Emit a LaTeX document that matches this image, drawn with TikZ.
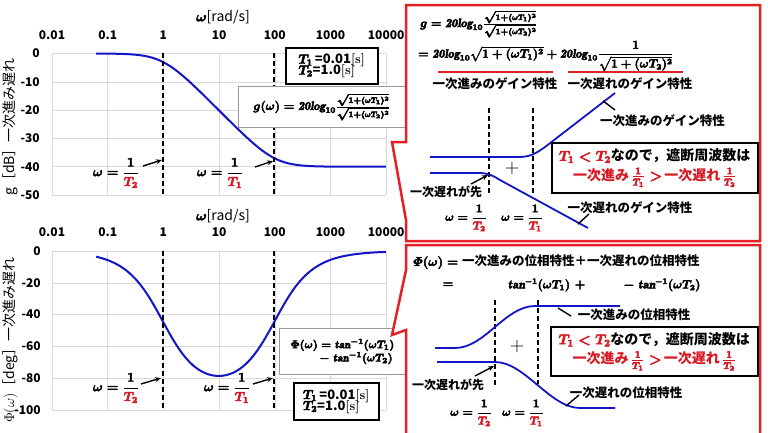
\RequirePackage{fix-cm}
\documentclass[tikz,border=0pt]{standalone}
\usepackage{amsmath}
\usepackage{fontspec}
\newfontfamily\jp{Noto Sans CJK JP}
\usetikzlibrary{arrows.meta}
\definecolor{cblue}{RGB}{20,20,200}
\definecolor{cred}{RGB}{226,32,38}
\definecolor{tred}{RGB}{215,25,35}
\definecolor{gridc}{RGB}{217,217,217}
\newcommand{\fs}[1]{\fontsize{#1}{#1}\selectfont}
\newcommand{\FB}[1]{\special{pdf:literal direct 2 Tr 0.5 w}#1\special{pdf:literal direct 0 Tr}}
\newcommand{\bmath}[1]{{\boldmath$#1$}}
\newcommand{\wfrac}[1]{\FB{$\omega=\dfrac{1}{\textcolor{tred}{T_{#1}}}$}}
\begin{document}
\begin{tikzpicture}[x=1pt,y=-1pt,
  curve/.style={cblue, line width=2pt},
  sketch/.style={cblue, line width=1.8pt},
  gridl/.style={gridc, line width=0.6pt},
  dline/.style={black, line width=1.8pt, dash pattern=on 5pt off 3pt},
  tk/.style={font=\fs{12}\jp\bfseries, inner sep=0},
  jpl/.style={font=\fs{12.5}\jp\bfseries, inner sep=0},
  ytitle/.style={font=\fs{14}\jp, rotate=90, inner sep=0},
  arr/.style={-{Stealth[length=6pt,width=5pt]}, line width=1.4pt},
  leader/.style={line width=1.4pt},
  fbox/.style={draw=gray!80, line width=0.8pt, fill=white, inner sep=2pt},
  tbox/.style={draw=black, line width=1.5pt, fill=white, align=left, font=\fs{13}, inner sep=3pt},
  rbox/.style={draw=cred, line width=2.5pt, fill=white, line join=miter},
  cbox/.style={draw=black, line width=1.5pt, fill=white, anchor=north west, align=center, inner sep=1pt, font=\fs{14}\boldmath},
  wlab/.style={font=\fs{13}\boldmath, inner sep=0},
  wlabs/.style={font=\fs{11.5}\boldmath, inner sep=0}
]
\useasboundingbox[fill=white] (0,0) rectangle (768,432);

% ================= top plot =================
\foreach \i in {0,...,6} \draw[gridl] ({52+55.7*\i},53.5) -- ({52+55.7*\i},195);
\foreach \j in {0,...,5} \draw[gridl] (52,{53.5+28.3*\j}) -- (386,{53.5+28.3*\j});
\node[font=\fs{14}, inner sep=0] (xt1) at (223,17) {\FB{\bmath{\omega}}{\jp[rad/s]}};
\foreach \lab [count=\i from 0] in {0.01,0.1,1,10,100,1000,10000}
  \node[tk] (tx\i) at ({52+55.7*\i},35) {\lab};
\foreach \lab [count=\i from 0] in {0,-10,-20,-30,-40,-50}
  \node[tk, anchor=east] (ty\i) at (40,{53.5+28.3*\i}) {\lab};
\node[ytitle] (yt1) at (10,127) {g［dB］一次進み遅れ};
\draw[curve] plot[domain=-1.2:4, samples=100, smooth]
  ({163+55.7*\x},{53.5-28.3*((max(2*\x-4,0)+ln(1+exp(-2.302585*min(abs(2*\x-4),6)))/2.302585)-(max(2*\x,0)+ln(1+exp(-2.302585*min(abs(2*\x),6)))/2.302585))});
\draw[dline] (163,53) -- (163,195);
\draw[dline] (274,53) -- (274,195);
\node[wlab] (w2a) at (116,173) {\wfrac{2}};
\node[wlab] (w1a) at (220,173) {\wfrac{1}};
\coordinate (w2at) at (162,160); \coordinate (w2as) at (143,166);
\coordinate (w1at) at (273,161); \coordinate (w1as) at (255,167);
\draw[arr] (w2as) -- (w2at);
\draw[arr] (w1as) -- (w1at);
\node[tbox, anchor=north west, minimum width=92, minimum height=36] (tb1) at (285,47)
  {\FB{\bmath{T_1}}\,{\jp\bfseries =0.01}\textbf{[s]}\\[-2pt]\FB{\bmath{T_2}}{\jp\bfseries =1.0}\textbf{[s]}};
\node[fbox, anchor=north west, minimum width=167, minimum height=41, font=\fs{12}\boldmath] (gf) at (238,86)
  {\FB{$g(\omega)=\mathit{20log}_{10}\frac{\sqrt{1+(\omega T_1)^2}}{\sqrt{1+(\omega T_2)^2}}$}};

% ================= bottom plot =================
\foreach \i in {0,...,6} \draw[gridl] ({52+55.7*\i},251) -- ({52+55.7*\i},410);
\foreach \j in {0,...,5} \draw[gridl] (52,{251+31.8*\j}) -- (386,{251+31.8*\j});
\node[font=\fs{14}, inner sep=0] (xt2) at (223,216) {\FB{\bmath{\omega}}{\jp[rad/s]}};
\foreach \lab [count=\i from 0] in {0.01,0.1,1,10,100,1000,10000}
  \node[tk] (bx\i) at ({52+55.7*\i},232) {\lab};
\foreach \lab [count=\i from 0] in {0,-20,-40,-60,-80,-100}
  \node[tk, anchor=east] (by\i) at (41,{251+31.8*\i}) {\lab};
\node[ytitle] (yt2) at (10,340) {$\Phi(\omega)$［deg］一次進み遅れ};
\draw[curve] plot[domain=-1.2:4, samples=100, smooth]
  ({163+55.7*\x},{251-1.59*(atan(exp(2.302585*(\x-2)))-atan(exp(2.302585*\x)))});
\draw[dline] (163,251) -- (163,410);
\draw[dline] (274,251) -- (274,410);
\node[wlab] (w2b) at (116,388) {\wfrac{2}};
\node[wlab] (w1b) at (227,388) {\wfrac{1}};
\coordinate (w2bt) at (161,378); \coordinate (w2bs) at (141,384);
\coordinate (w1bt) at (273,378); \coordinate (w1bs) at (253,384);
\draw[arr] (w2bs) -- (w2bt);
\draw[arr] (w1bs) -- (w1bt);
\node[fbox, anchor=north west, minimum width=126, minimum height=46, font=\fs{11}\boldmath, align=left] (pf) at (279,328)
  {\FB{$\Phi(\omega)=\mathit{tan}^{-1}(\omega T_1)$}\\\FB{$\qquad\;\;-\ \mathit{tan}^{-1}(\omega T_2)$}};
\node[tbox, anchor=north west, minimum width=85, minimum height=37] (tb2) at (293,382)
  {\FB{\bmath{T_1}}\,{\jp\bfseries =0.01}\textbf{[s]}\\[-2pt]\FB{\bmath{T_2}}{\jp\bfseries =1.0}\textbf{[s]}};

% ================= right upper callout =================
\draw[rbox] (406,5) -- (760,5) -- (760,241) -- (406,241) -- (406,220) -- (392,142) -- (406,142) -- cycle;
\node[anchor=west, inner sep=0, font=\fs{12}\boldmath] (ga) at (420,24)
  {\FB{$g=\mathit{20log}_{10}\frac{\sqrt{1+(\omega T_1)^2}}{\sqrt{1+(\omega T_2)^2}}$}};
\node[anchor=west, inner sep=0, font=\fs{12}\boldmath] (gb) at (418,56)
  {\FB{$=\mathit{20log}_{10}\sqrt{1+(\omega T_1)^2}+\mathit{20log}_{10}\dfrac{1}{\sqrt{1+(\omega T_2)^2}}$}};
\coordinate (ul1a) at (438,72); \coordinate (ul1b) at (553,72);
\coordinate (ul2a) at (568,72); \coordinate (ul2b) at (683,72);
\draw[cred, line width=2pt] (ul1a) -- (ul1b);
\draw[cred, line width=2pt] (ul2a) -- (ul2b);
\node[jpl] (gl1) at (495,84) {一次進みのゲイン特性};
\node[jpl] (gl2) at (630,84) {一次遅れのゲイン特性};
\draw[dline] (489,108) -- (489,195);
\draw[dline] (533,108) -- (533,193);
\draw[sketch] (430,157) -- (518,157) .. controls (530,157) and (535,154) .. (545,147) -- (615,93);
\draw[sketch] (430,173) -- (478,173) .. controls (488,173) and (492,175) .. (500,180) -- (588,228);
\node[font=\fs{20}, inner sep=0] (plus1) at (512,168) {$+$};
\node[jpl, anchor=west] (gl3) at (600,121) {一次進みのゲイン特性};
\coordinate (ld1a) at (603,101); \coordinate (ld1b) at (615,110);
\draw[leader] (ld1a) -- (ld1b);
\node[jpl] (gl4) at (630,208) {一次遅れのゲイン特性};
\coordinate (ld2a) at (578,224); \coordinate (ld2b) at (589,214);
\draw[leader] (ld2a) -- (ld2b);
\node[cbox, minimum width=206, minimum height=50] (cb1) at (551,142)
  {\textcolor{tred}{\FB{$T_1<T_2$}}{\jp\bfseries なので，遮断周波数は}\\[4pt]
   \textcolor{tred}{{\jp\bfseries 一次進み}\,\FB{$\frac{1}{T_1}>$}\,{\jp\bfseries 一次遅れ}\,\FB{$\frac{1}{T_2}$}}};
\node[font=\fs{12}\jp\bfseries, inner sep=0] (sk1) at (446,192) {一次遅れが先};
\coordinate (sk1s) at (471,184); \coordinate (sk1t) at (488,175);
\draw[arr] (sk1s) -- (sk1t);
\node[wlabs] (w2c) at (466,218) {\wfrac{2}};
\node[wlabs] (w1c) at (522,218) {\wfrac{1}};

% ================= right lower callout =================
\draw[rbox] (406,245) -- (760,245) -- (760,440) -- (406,440) -- (406,330) -- (392,335) -- (406,270) -- cycle;
\node[anchor=west, inner sep=0, font=\fs{12.5}\boldmath] (pa) at (413,262)
  {\FB{$\varPhi(\omega)=$}\ {\jp\bfseries 一次進みの位相特性＋一次遅れの位相特性}};
\node[inner sep=0, font=\fs{12}\boldmath] (pb1) at (448,285) {\FB{$=$}};
\node[inner sep=0, font=\fs{12}\boldmath] (pb2) at (539,285) {\FB{$\mathit{tan}^{-1}(\omega T_1)$}};
\node[inner sep=0, font=\fs{12}\boldmath] (pb3) at (580,285) {\FB{$+$}};
\node[inner sep=0, font=\fs{12}\boldmath] (pb4) at (662,285) {\FB{$-\ \mathit{tan}^{-1}(\omega T_2)$}};
\draw[dline] (495,300) -- (495,386);
\draw[dline] (538,300) -- (538,384);
\draw[sketch] (435,348) -- (455,348) .. controls (485,348) and (505,306) .. (535,306) -- (620,306);
\draw[sketch] (437,362) -- (495,362) .. controls (525,362) and (550,408) .. (580,408) -- (615,408);
\node[font=\fs{20}, inner sep=0] (plus2) at (517,346) {$+$};
\node[jpl] (pl1) at (634,315) {一次進みの位相特性};
\coordinate (ld3a) at (558,308); \coordinate (ld3b) at (571,316);
\draw[leader] (ld3a) -- (ld3b);
\node[jpl] (pl2) at (626,393) {一次遅れの位相特性};
\coordinate (ld4a) at (566,406); \coordinate (ld4b) at (579,395);
\draw[leader] (ld4a) -- (ld4b);
\node[cbox, minimum width=207, minimum height=49] (cb2) at (550,326)
  {\textcolor{tred}{\FB{$T_1<T_2$}}{\jp\bfseries なので，遮断周波数は}\\[4pt]
   \textcolor{tred}{{\jp\bfseries 一次進み}\,\FB{$\frac{1}{T_1}>$}\,{\jp\bfseries 一次遅れ}\,\FB{$\frac{1}{T_2}$}}};
\node[font=\fs{12}\jp\bfseries, inner sep=0] (sk2) at (448,385) {一次遅れが先};
\coordinate (sk2s) at (475,376); \coordinate (sk2t) at (494,366);
\draw[arr] (sk2s) -- (sk2t);
\node[wlabs] (w2d) at (471,413) {\wfrac{2}};
\node[wlabs] (w1d) at (523,413) {\wfrac{1}};
\end{tikzpicture}
\end{document}
